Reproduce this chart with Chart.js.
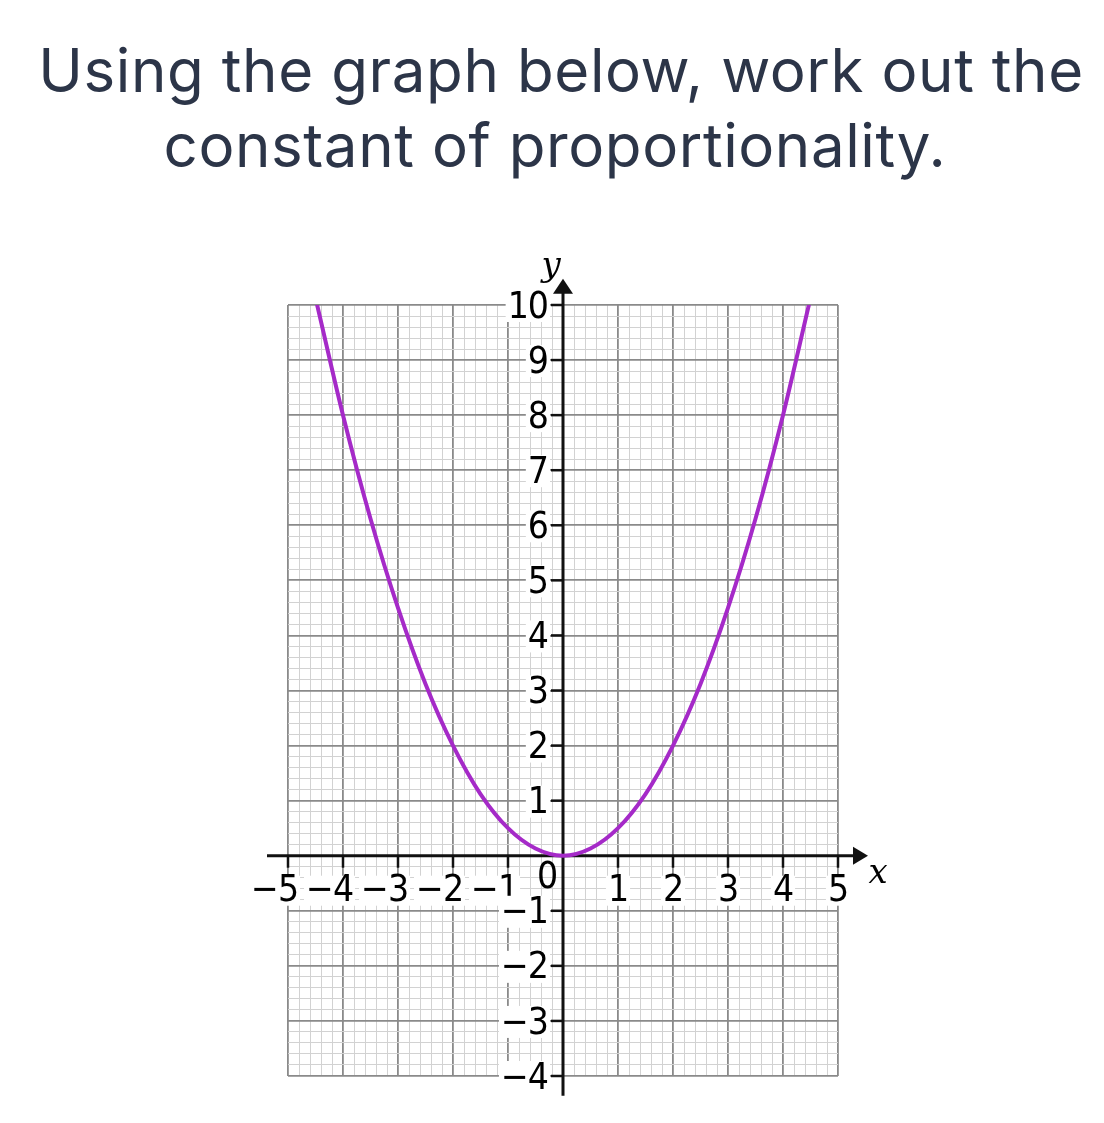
<!DOCTYPE html>
<html>
<head>
<meta charset="utf-8">
<script src="https://cdn.jsdelivr.net/npm/chart.js@4"></script>
<style>
  body { margin: 0; background: #fff; }
  #wrap { position: relative; width: 1104px; height: 1123px; }
  .title {
    position: absolute; left: 0; width: 1104px; text-align: center;
    font-family: "Inter", "Lato", sans-serif; font-weight: 400;
    font-size: 60px; line-height: 75px; color: #2c3548; white-space: nowrap;
    letter-spacing: 0.6px; z-index: 2;
  }
</style>
</head>
<body>
<div id="wrap">
  <div class="title" style="top:33px; left:9px">Using the graph below, work out the</div>
  <div class="title" style="top:108px; left:3px">constant of proportionality.</div>
  <canvas id="graph"></canvas>
</div>
<script>
// points
var xs = [-4.47, -4, -3.5, -3, -2.5, -2, -1.5, -1, -0.5, 0, 0.5, 1, 1.5, 2, 2.5, 3, 3.5, 4, 4.47];
var ys = [10, 8, 6.12, 4.5, 3.12, 2, 1.12, 0.5, 0.13, 0, 0.13, 0.5, 1.12, 2, 3.12, 4.5, 6.12, 8, 10];
// tick labels on the axes
var xTicks = [-5, -4, -3, -2, -1, 1, 2, 3, 4, 5];
var yTicks = [-4, -3, -2, -1, 1, 2, 3, 4, 5, 6, 7, 8, 9, 10];

var points = xs.map(function (v, i) { return { x: v, y: ys[i] }; });

function isMajor(v) { return Math.abs(v - Math.round(v)) < 1e-6; }

var labelFont = '37px "Liberation Sans Narrow", "DejaVu Sans Condensed", Roboto, sans-serif';

// draws the axes through the origin, arrows, ticks and labels
var axesPlugin = {
  id: 'axes',
  beforeDatasetsDraw: function (chart) {
    var ctx = chart.ctx, sx = chart.scales.x, sy = chart.scales.y;
    var x0 = sx.getPixelForValue(0), y0 = sy.getPixelForValue(0);
    ctx.save();
    ctx.strokeStyle = '#111';
    ctx.fillStyle = '#111';
    ctx.lineWidth = 3;

    // x axis
    var xl = x0 - 296, xr = x0 + 305;
    ctx.beginPath(); ctx.moveTo(xl, y0); ctx.lineTo(xr - 8, y0); ctx.stroke();
    ctx.beginPath(); ctx.moveTo(xr, y0); ctx.lineTo(xr - 15, y0 - 9); ctx.lineTo(xr - 15, y0 + 9); ctx.closePath(); ctx.fill();
    // y axis
    var yb = y0 + 240, yt = y0 - 577;
    ctx.beginPath(); ctx.moveTo(x0, yb); ctx.lineTo(x0, yt + 8); ctx.stroke();
    ctx.beginPath(); ctx.moveTo(x0, yt); ctx.lineTo(x0 - 10, yt + 15); ctx.lineTo(x0 + 10, yt + 15); ctx.closePath(); ctx.fill();

    ctx.lineWidth = 2.5;
    ctx.font = labelFont;
    ctx.textBaseline = 'middle';
    ctx.letterSpacing = '-1px';

    xTicks.forEach(function (v) {
      var px = sx.getPixelForValue(v);
      ctx.beginPath(); ctx.moveTo(px, y0); ctx.lineTo(px, y0 + 12); ctx.stroke();
      var txt = v < 0 ? '\u2212' + Math.abs(v) : String(v);
      var dw = ctx.measureText(String(Math.abs(v))).width;
      var tw = ctx.measureText(txt).width;
      var right = px + dw / 2;
      ctx.fillStyle = '#fff';
      ctx.fillRect(right - tw - 2, y0 + 20, tw + 4, 30);
      ctx.fillStyle = '#000';
      ctx.textAlign = 'right';
      ctx.fillText(txt, right, y0 + 36);
    });

    yTicks.forEach(function (v) {
      var py = sy.getPixelForValue(v);
      ctx.beginPath(); ctx.moveTo(x0, py); ctx.lineTo(x0 - 12, py); ctx.stroke();
      var txt = v < 0 ? '\u2212' + Math.abs(v) : String(v);
      var tw = ctx.measureText(txt).width;
      var right = x0 - 15;
      ctx.fillStyle = '#fff';
      ctx.fillRect(right - tw - 2, py - 15, tw + 4, 32);
      ctx.fillStyle = '#000';
      ctx.textAlign = 'right';
      ctx.fillText(txt, right, py + 3);
    });

    // origin label
    ctx.textAlign = 'center';
    ctx.fillText('0', x0 - 16, y0 + 23);

    // axis names
    ctx.letterSpacing = '0px';
    ctx.font = 'italic 34px "DejaVu Serif", "Liberation Serif", serif';
    ctx.fillText('y', x0 - 12, yt - 12);
    ctx.fillText('x', xr + 10, y0 + 18);
    ctx.restore();
  }
};

new Chart(document.getElementById('graph'), {
  type: 'scatter',
  data: {
    datasets: [{
      data: points,
      showLine: true,
      borderColor: '#a52ac8',
      borderWidth: 4,
      borderCapStyle: 'round',
      cubicInterpolationMode: 'monotone',
      pointRadius: 0,
      pointHoverRadius: 0
    }]
  },
  options: {
    responsive: true,
    maintainAspectRatio: false,
    animation: false,
    events: [],
    layout: { padding: { left: 288, right: 266, top: 305, bottom: 47 } },
    plugins: { legend: { display: false }, tooltip: { enabled: false } },
    scales: {
      x: {
        type: 'linear', min: -5, max: 5,
        ticks: { display: false, stepSize: 0.2 },
        border: { display: false },
        grid: {
          drawTicks: false,
          color: function (c) { return isMajor(c.tick.value) ? '#8a8a8a' : '#d2d2d2'; },
          lineWidth: function (c) { return isMajor(c.tick.value) ? 1.8 : 1; }
        }
      },
      y: {
        type: 'linear', min: -4, max: 10,
        ticks: { display: false, stepSize: 0.2 },
        border: { display: false },
        grid: {
          drawTicks: false,
          color: function (c) { return isMajor(c.tick.value) ? '#8a8a8a' : '#d2d2d2'; },
          lineWidth: function (c) { return isMajor(c.tick.value) ? 1.8 : 1; }
        }
      }
    }
  },
  plugins: [axesPlugin]
});
document.getElementById('graph').parentNode.style.height = '1123px';
</script>
</body>
</html>
